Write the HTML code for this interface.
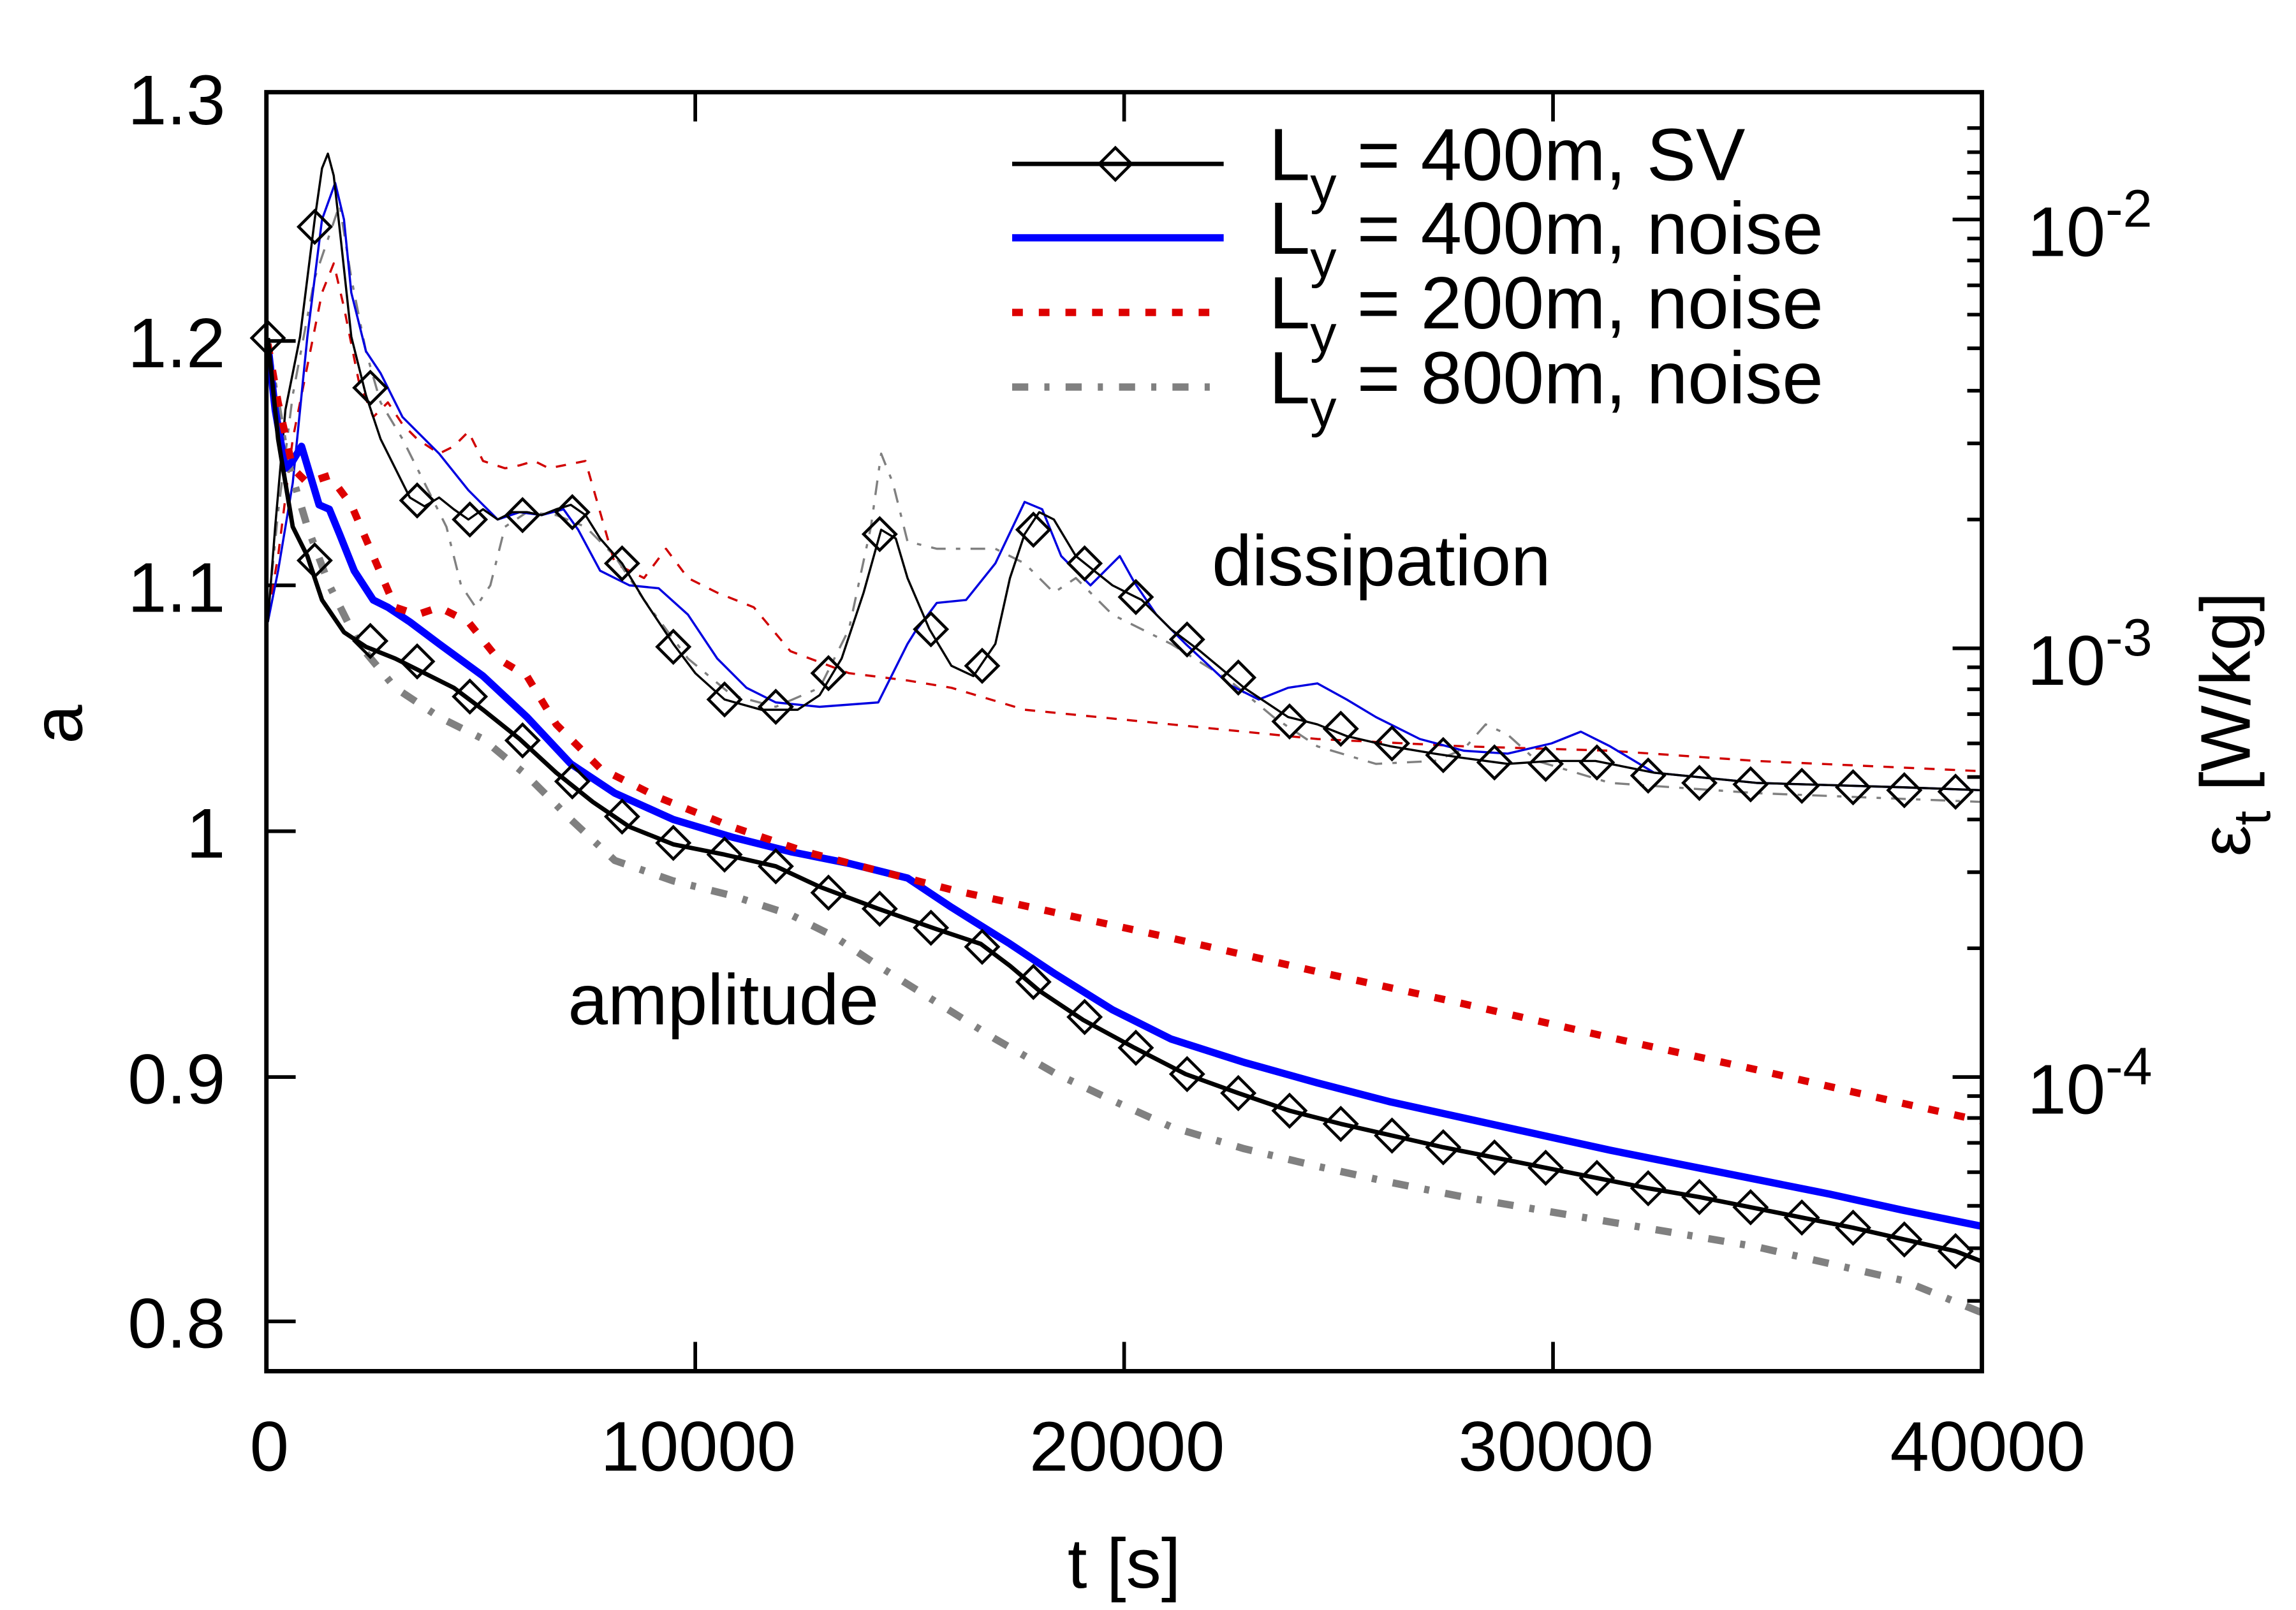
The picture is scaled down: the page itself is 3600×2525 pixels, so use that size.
<!DOCTYPE html>
<html><head><meta charset="utf-8"><style>
html,body{margin:0;padding:0;background:#fff}
svg{display:block}
text{font-family:"Liberation Sans",Arial,sans-serif;fill:#000}
</style></head><body>
<svg width="3600" height="2525" viewBox="0 0 1568.6 1100.2" xmlns="http://www.w3.org/2000/svg">
<defs>
<path id="dm" d="M0,-11 L11,0 L0,11 L-11,0 Z" fill="none" stroke="#000" stroke-width="2"/>
</defs>
<rect width="1568.6" height="1100.2" fill="#fff"/>

<g stroke="#000" stroke-width="2.5" fill="none">
<path d="M182,233 h20 M182,400 h20 M182,568 h20 M182,736 h20 M182,903 h20"/>
<path d="M475,937 v-20 M768,937 v-20 M1061,937 v-20 M475,63 v20 M768,63 v20 M1061,63 v20"/>
<path d="M1354,150 h-20 M1354,443 h-20 M1354,736 h-20"/>
<path d="M1354,87.5 h-10 M1354,104 h-10 M1354,118 h-10 M1354,135 h-10
M1354,355 h-10 M1354,303 h-10 M1354,267 h-10 M1354,238 h-10 M1354,215 h-10 M1354,195 h-10 M1354,178 h-10 M1354,163 h-10
M1354,648 h-10 M1354,596 h-10 M1354,560 h-10 M1354,531 h-10 M1354,508 h-10 M1354,488 h-10 M1354,471 h-10 M1354,456 h-10
M1354,889 h-10 M1354,853 h-10 M1354,824 h-10 M1354,801 h-10 M1354,781 h-10 M1354,764 h-10 M1354,749 h-10"/>
</g>

<g fill="none" stroke-width="1.5" stroke-linejoin="round">
<polyline stroke="#d00000" stroke-dasharray="7,7" points="183,420 190,380 200,300 210,250 220,200 228,180 235,210 245,260 255,285 265,275 275,290 285,300 300,310 310,305 320,295 330,315 345,320 355,318 365,315 375,320 385,318 400,315 410,350 420,385 440,395 455,375 470,395 490,405 515,415 540,445 580,460 620,465 650,470 700,485 800,495 900,505 1000,510 1100,513 1200,520 1354,527"/>
<polyline stroke="#808080" stroke-dasharray="10,7,3,7" points="183,420 190,350 200,270 215,190 232,140 240,190 250,240 260,275 275,300 290,330 305,360 315,400 325,415 335,400 345,360 360,350 380,352 400,360 420,380 440,410 470,450 500,475 530,483 560,470 580,430 595,360 602,310 610,330 620,370 640,375 680,375 700,385 720,405 735,395 760,420 800,440 840,465 870,490 900,510 940,522 980,520 1000,512 1015,495 1030,502 1050,520 1100,535 1200,542 1354,548"/>
<polyline stroke="#0000e0" points="183,425 190,390 200,330 210,230 220,150 229,125 235,150 240,200 250,240 260,255 275,285 300,310 320,335 330,345 340,355 355,350 370,352 385,348 395,362 410,390 430,400 450,402 470,420 490,450 510,470 530,480 560,483 600,480 610,460 620,440 625,432 640,412 660,410 680,385 700,343 712,348 725,380 745,400 765,380 775,398 790,420 810,440 840,468 860,478 880,470 900,467 920,478 940,490 970,505 1000,513 1030,515 1060,508 1080,500 1100,510 1130,528 1200,535 1300,538 1354,540"/>
<polyline stroke="#000" points="183,425 188,360 195,280 200,255 205,230 210,190 215,150 220,115 224,105 228,120 233,165 240,230 250,270 260,300 270,320 280,340 290,346 300,340 310,348 320,355 330,348 340,355 350,350 360,350 370,352 380,348 390,345 400,352 410,368 425,385 440,410 460,440 475,460 495,478 520,485 545,485 560,475 575,450 590,405 602,362 612,368 620,395 635,430 650,455 665,462 680,440 690,395 700,365 710,350 720,355 735,380 760,400 780,410 800,430 820,445 850,470 880,490 900,495 920,503 950,510 980,515 1000,518 1030,522 1060,520 1090,520 1130,528 1200,535 1300,538 1354,540"/>
</g>
<g>
<use href="#dm" x="215" y="155"/><use href="#dm" x="253" y="265"/><use href="#dm" x="285" y="342"/><use href="#dm" x="321" y="355"/><use href="#dm" x="357" y="352"/><use href="#dm" x="391" y="350"/><use href="#dm" x="425" y="385"/><use href="#dm" x="460" y="442"/><use href="#dm" x="495" y="478"/><use href="#dm" x="530" y="483"/><use href="#dm" x="566" y="460"/><use href="#dm" x="601" y="365"/><use href="#dm" x="636" y="430"/><use href="#dm" x="671" y="455"/><use href="#dm" x="706" y="362"/><use href="#dm" x="741" y="385"/><use href="#dm" x="776" y="408"/><use href="#dm" x="811" y="437"/><use href="#dm" x="846" y="463"/><use href="#dm" x="881" y="493"/><use href="#dm" x="916" y="498"/><use href="#dm" x="951" y="508"/><use href="#dm" x="986" y="516"/><use href="#dm" x="1021" y="521"/><use href="#dm" x="1056" y="522"/><use href="#dm" x="1091" y="521"/><use href="#dm" x="1126" y="530"/><use href="#dm" x="1161" y="535"/><use href="#dm" x="1196" y="536"/><use href="#dm" x="1231" y="537"/><use href="#dm" x="1266" y="538"/><use href="#dm" x="1301" y="540"/><use href="#dm" x="1336" y="541"/>
</g>

<g fill="none" stroke-linejoin="round">
<polyline stroke="#808080" stroke-width="5" stroke-dasharray="11,11,3.5,11" points="183,240 195,310 210,360 225,400 245,440 270,470 300,490 330,505 360,530 390,560 420,588 460,602 500,612 540,625 570,640 600,660 640,685 680,710 720,733 760,752 800,770 850,785 900,797 950,808 1000,818 1100,835 1200,852 1300,875 1354,897"/>
<polyline stroke="#0000ff" stroke-width="5" points="183,235 188,280 195,320 200,315 206,305 212,325 218,345 225,348 232,365 242,390 255,410 265,415 280,425 300,440 330,462 360,490 390,522 420,542 460,560 500,572 540,582 580,590 620,600 650,620 690,645 720,665 760,690 800,710 850,726 900,740 950,753 1000,764 1050,775 1100,786 1150,796 1200,806 1250,816 1300,827 1354,838"/>
<polyline stroke="#dd0000" stroke-width="5" stroke-dasharray="7.3,10.9" points="183,235 190,275 200,320 210,330 225,325 240,345 255,380 270,415 285,420 300,415 320,425 340,450 360,462 380,495 410,525 450,545 500,565 550,582 600,595 650,608 700,619 800,641 900,664 1000,686 1100,709 1200,731 1300,754 1354,766"/>
<polyline stroke="#000" stroke-width="3" points="183,231 190,300 200,360 210,380 220,410 235,432 250,442 270,450 290,460 310,470 330,485 355,505 380,528 405,548 430,565 460,577 495,584 530,592 560,606 600,621 640,635 670,645 690,660 710,677 740,697 775,716 810,734 846,747 881,759 916,768 951,776 986,784 1021,791 1056,798 1091,805 1126,812 1161,818 1196,825 1231,832 1266,839 1301,847 1336,855 1354,862"/>
</g>
<g>
<use href="#dm" x="183" y="231"/><use href="#dm" x="215" y="383"/><use href="#dm" x="253" y="438"/><use href="#dm" x="285" y="452"/><use href="#dm" x="321" y="476"/><use href="#dm" x="357" y="506"/><use href="#dm" x="391" y="534"/><use href="#dm" x="425" y="558"/><use href="#dm" x="460" y="576"/><use href="#dm" x="495" y="584"/><use href="#dm" x="530" y="592"/><use href="#dm" x="566" y="610"/><use href="#dm" x="601" y="621"/><use href="#dm" x="636" y="634"/><use href="#dm" x="671" y="647"/><use href="#dm" x="706" y="671"/><use href="#dm" x="741" y="695"/><use href="#dm" x="776" y="716"/><use href="#dm" x="811" y="734"/><use href="#dm" x="846" y="747"/><use href="#dm" x="881" y="759"/><use href="#dm" x="916" y="768"/><use href="#dm" x="951" y="776"/><use href="#dm" x="986" y="784"/><use href="#dm" x="1021" y="791"/><use href="#dm" x="1056" y="798"/><use href="#dm" x="1091" y="805"/><use href="#dm" x="1126" y="812"/><use href="#dm" x="1161" y="818"/><use href="#dm" x="1196" y="825"/><use href="#dm" x="1231" y="832"/><use href="#dm" x="1266" y="839"/><use href="#dm" x="1301" y="847"/><use href="#dm" x="1336" y="855"/>
</g>

<rect x="182" y="63" width="1172" height="874" fill="none" stroke="#000" stroke-width="3"/>

<g fill="none">
<line x1="691.5" y1="112" x2="836" y2="112" stroke="#000" stroke-width="3"/>
<use href="#dm" x="762" y="112"/>
<line x1="691.5" y1="162.5" x2="836" y2="162.5" stroke="#0000ff" stroke-width="5"/>
<line x1="691.5" y1="213.5" x2="836" y2="213.5" stroke="#dd0000" stroke-width="5" stroke-dasharray="7.3,10.9"/>
<line x1="691.5" y1="264.5" x2="836" y2="264.5" stroke="#808080" stroke-width="5" stroke-dasharray="11,11,3.5,11"/>
</g>
<g font-size="50.5">
<text x="867" y="123">L<tspan font-size="36" dy="16">y</tspan><tspan dy="-16"> = 400m, SV</tspan></text>
<text x="867" y="173.5">L<tspan font-size="36" dy="16">y</tspan><tspan dy="-16"> = 400m, noise</tspan></text>
<text x="867" y="224.5">L<tspan font-size="36" dy="16">y</tspan><tspan dy="-16"> = 200m, noise</tspan></text>
<text x="867" y="275.5">L<tspan font-size="36" dy="16">y</tspan><tspan dy="-16"> = 800m, noise</tspan></text>
</g>

<g font-size="48" text-anchor="end">
<text x="154" y="85">1.3</text>
<text x="154" y="251">1.2</text>
<text x="154" y="418">1.1</text>
<text x="154" y="586">1</text>
<text x="154" y="754">0.9</text>
<text x="154" y="921">0.8</text>
</g>
<g font-size="48" text-anchor="middle">
<text x="184" y="1005">0</text>
<text x="477" y="1005">10000</text>
<text x="770" y="1005">20000</text>
<text x="1063" y="1005">30000</text>
<text x="1358" y="1005">40000</text>
<text x="768" y="1085">t [s]</text>
</g>
<g font-size="48">
<text x="1385" y="175">10<tspan font-size="36" dy="-20">-2</tspan></text>
<text x="1385" y="468">10<tspan font-size="36" dy="-20">-3</tspan></text>
<text x="1385" y="761">10<tspan font-size="36" dy="-20">-4</tspan></text>
<text x="828" y="400" font-size="49">dissipation</text>
<text x="388" y="700" font-size="49">amplitude</text>
</g>
<text font-size="48" transform="translate(56,495) rotate(-90)" text-anchor="middle">a</text>
<text font-size="48" transform="translate(1537,495) rotate(-90)" text-anchor="middle">ε<tspan font-size="36" dy="14">t</tspan><tspan dy="-14"> [W/kg]</tspan></text>
</svg>
</body></html>
